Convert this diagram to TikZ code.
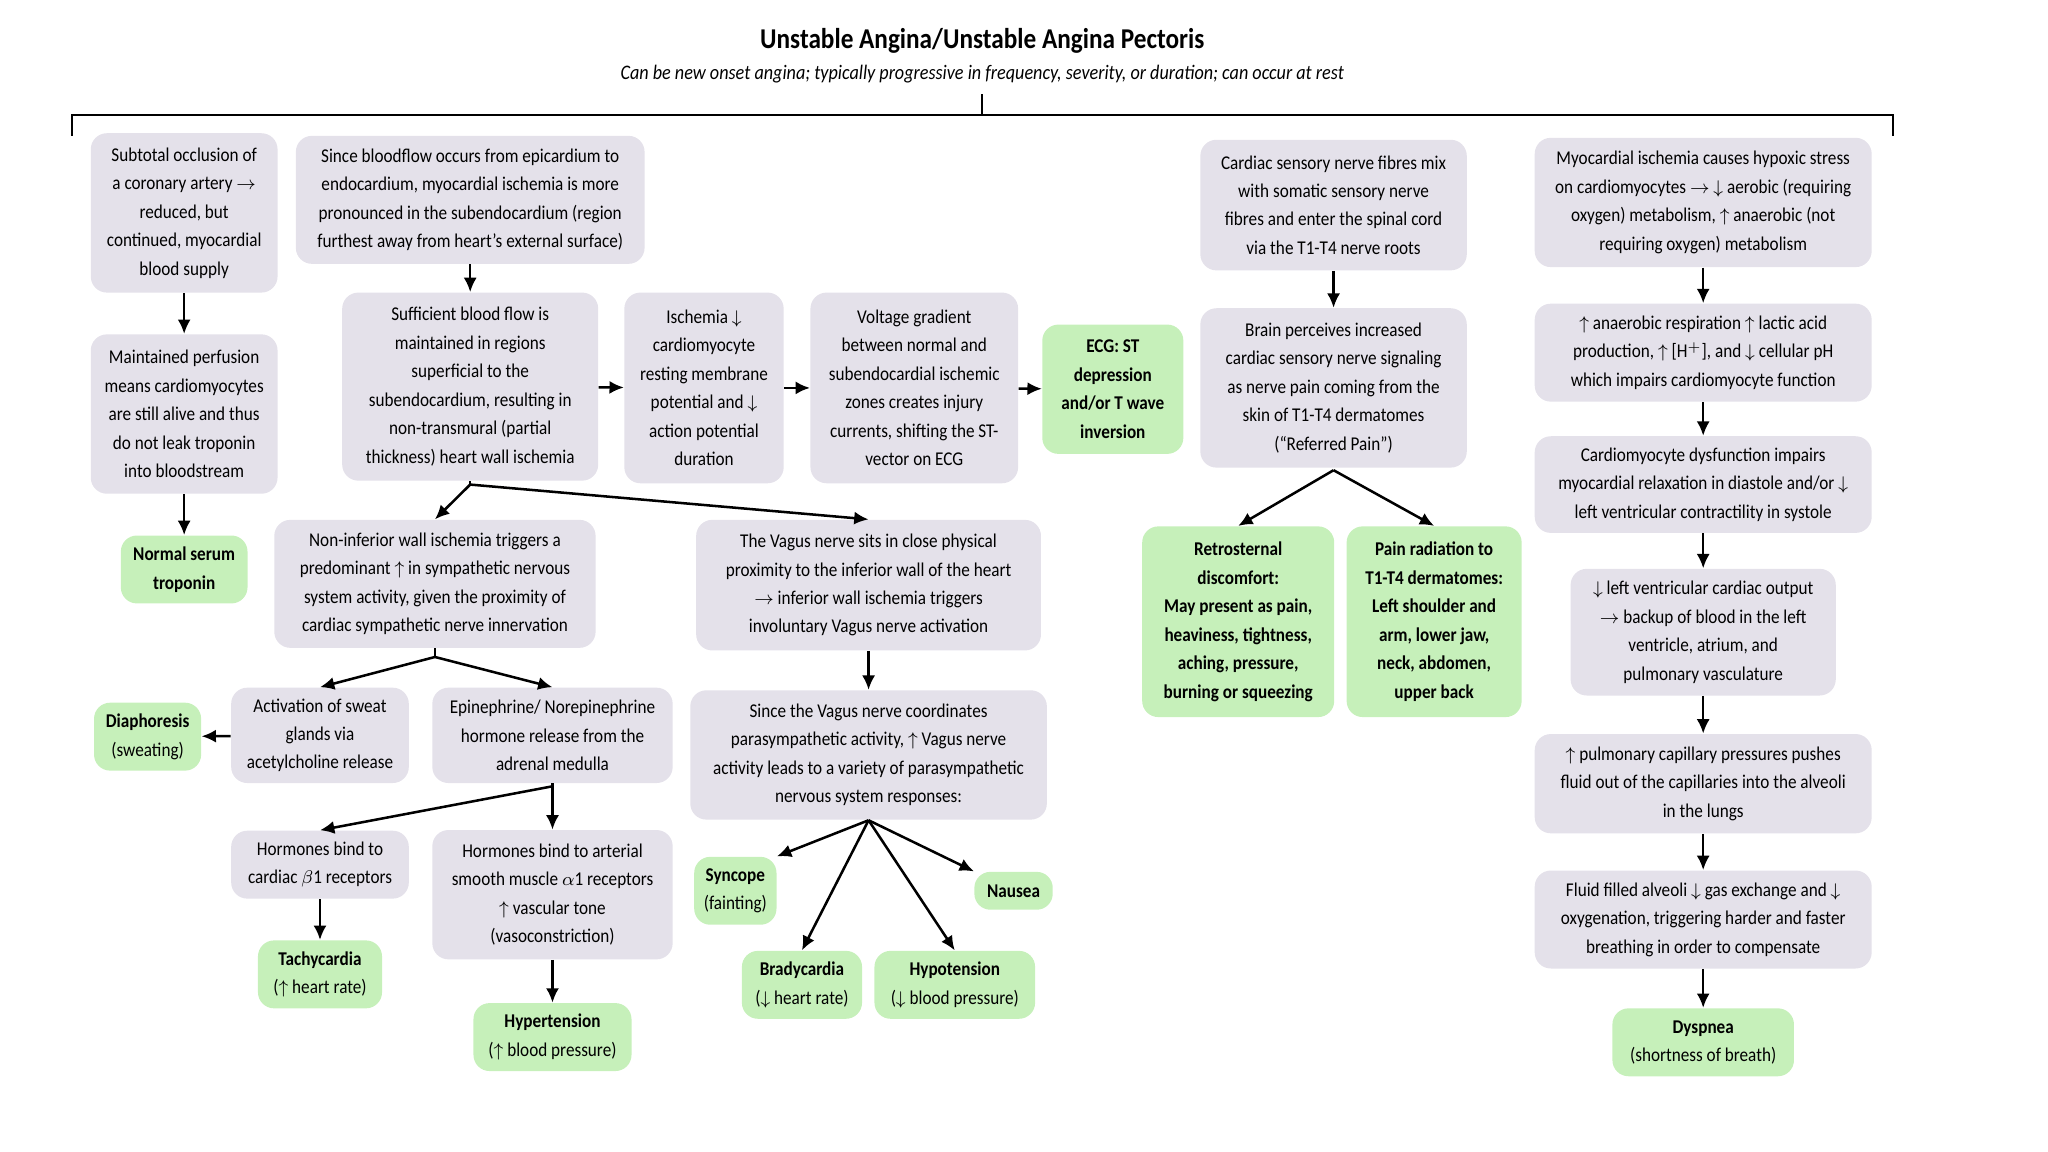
\documentclass[tikz,border=0pt]{standalone}
\usepackage{amsmath}
\usepackage{fontspec}
\setmainfont{Carlito}[FakeStretch=0.88]
\usetikzlibrary{arrows.meta}
\definecolor{boxgray}{HTML}{E4E1EA}
\definecolor{boxgreen}{HTML}{C6F0BA}
\newcommand\inc{$\uparrow$}
\newcommand\dec{$\downarrow$}
\newcommand\lead{$\rightarrow$}
\tikzset{
  sz/.style 2 args={minimum width={#1*0.02cm}, minimum height={#2*0.02cm}},
  gbox/.style={fill=boxgray, rounded corners=7pt, align=center, inner sep=2pt,
    font=\fontsize{8.5}{12.4}\selectfont},
  grbox/.style={gbox, fill=boxgreen},
  arr/.style={-{Latex[length=2.2mm,width=2mm]}, line width=1.1pt},
}
\begin{document}
\begin{tikzpicture}[x=0.02cm, y=-0.02cm]
    \useasboundingbox (0,0) rectangle (1568,882);
    % Title and bracket
    \node (title) at (752,31) {\fontsize{12.5}{14}\selectfont\bfseries Unstable Angina/Unstable Angina Pectoris};
    \node (sub) at (752,57) {\fontsize{9}{11}\selectfont\itshape Can be new onset angina; typically progressive in frequency, severity, or duration; can occur at rest};
    \draw[line width=0.9pt] (55,104) -- (55,88) -- (1449,88) -- (1449,104);
    \draw[line width=0.9pt] (752,88) -- (752,72);

    % Left column
    \node[gbox, sz={143}{122}] (occl) at (141,163) {Subtotal occlusion of\\a coronary artery \lead\\reduced, but\\continued, myocardial\\blood supply};
    \node[gbox, sz={143}{122}] (perf) at (141,317) {Maintained perfusion\\means cardiomyocytes\\are still alive and thus\\do not leak troponin\\into bloodstream};
    \node[grbox, sz={97}{52}] (trop) at (141,436) {\textbf{Normal serum}\\\textbf{troponin}};

    % Ischemia chain
    \node[gbox, sz={267}{98}] (since) at (360,153) {Since bloodflow occurs from epicardium to\\endocardium, myocardial ischemia is more\\pronounced in the subendocardium (region\\furthest away from heart's external surface)};
    \node[gbox, sz={196}{144}] (suff) at (360,296) {Sufficient blood flow is\\maintained in regions\\superficial to the\\subendocardium, resulting in\\non-transmural (partial\\thickness) heart wall ischemia};
    \node[gbox, sz={122}{146}] (isch) at (539,297) {Ischemia \dec\\cardiomyocyte\\resting membrane\\potential and \dec\\action potential\\duration};
    \node[gbox, sz={159}{146}] (volt) at (700,297) {Voltage gradient\\between normal and\\subendocardial ischemic\\zones creates injury\\currents, shifting the ST-\\vector on ECG};
    \node[grbox, sz={108}{99}] (ecg) at (852,298) {\bfseries ECG: ST\\\bfseries depression\\\bfseries and/or T wave\\\bfseries inversion};

    % Sympathetic branch
    \node[gbox, sz={246}{98}] (noninf) at (333,447) {Non-inferior wall ischemia triggers a\\predominant \inc\ in sympathetic nervous\\system activity, given the proximity of\\cardiac sympathetic nerve innervation};
    \node[gbox, sz={136}{73}] (sweat) at (245,563) {Activation of sweat\\glands via\\acetylcholine release};
    \node[grbox, sz={82}{52}] (diaph) at (113,564) {\textbf{Diaphoresis}\\(sweating)};
    \node[gbox, sz={184}{73}] (epi) at (423,563) {Epinephrine/ Norepinephrine\\hormone release from the\\adrenal medulla};
    \node[gbox, sz={136}{52}] (beta) at (245,662) {Hormones bind to\\cardiac $\beta$1 receptors};
    \node[gbox, sz={184}{99}] (alpha) at (423,685) {Hormones bind to arterial\\smooth muscle $\alpha$1 receptors\\\inc\ vascular tone\\(vasoconstriction)};
    \node[grbox, sz={95}{52}] (tachy) at (245,746) {\textbf{Tachycardia}\\(\inc\ heart rate)};
    \node[grbox, sz={121}{52}] (hyper) at (423,794) {\textbf{Hypertension}\\(\inc\ blood pressure)};

    % Vagal branch
    \node[gbox, sz={264}{100}] (vagus) at (665,448) {The Vagus nerve sits in close physical\\proximity to the inferior wall of the heart\\\lead\ inferior wall ischemia triggers\\involuntary Vagus nerve activation};
    \node[gbox, sz={273}{99}] (para) at (665,578) {Since the Vagus nerve coordinates\\parasympathetic activity, \inc\ Vagus nerve\\activity leads to a variety of parasympathetic\\nervous system responses:};
    \node[grbox, sz={63}{52}] (sync) at (563,682) {\textbf{Syncope}\\(fainting)};
    \node[grbox, sz={60}{29}] (nausea) at (776,682) {\textbf{Nausea}};
    \node[grbox, sz={92}{52}] (brady) at (614,754) {\textbf{Bradycardia}\\(\dec\ heart rate)};
    \node[grbox, sz={123}{52}] (hypot) at (731,754) {\textbf{Hypotension}\\(\dec\ blood pressure)};

    % Referred pain
    \node[gbox, sz={204}{100}] (sens) at (1021,157) {Cardiac sensory nerve fibres mix\\with somatic sensory nerve\\fibres and enter the spinal cord\\via the T1-T4 nerve roots};
    \node[gbox, sz={204}{122}] (brain) at (1021,297) {Brain perceives increased\\cardiac sensory nerve signaling\\as nerve pain coming from the\\skin of T1-T4 dermatomes\\(``Referred Pain'')};
    \node[grbox, sz={147}{146}] (retro) at (948,476) {\bfseries Retrosternal\\\bfseries discomfort:\\\bfseries May present as pain,\\\bfseries heaviness, tightness,\\\bfseries aching, pressure,\\\bfseries burning or squeezing};
    \node[grbox, sz={134}{146}] (pain) at (1098,476) {\bfseries Pain radiation to\\\bfseries T1-T4 dermatomes:\\\bfseries Left shoulder and\\\bfseries arm, lower jaw,\\\bfseries neck, abdomen,\\\bfseries upper back};

    % Right column
    \node[gbox, sz={258}{99}] (myo) at (1304,155) {Myocardial ischemia causes hypoxic stress\\on cardiomyocytes \lead\ \dec\ aerobic (requiring\\oxygen) metabolism, \inc\ anaerobic (not\\requiring oxygen) metabolism};
    \node[gbox, sz={258}{75}] (anaer) at (1304,270) {\inc\ anaerobic respiration \inc\ lactic acid\\production, \inc\ [H$^+$], and \dec\ cellular pH\\which impairs cardiomyocyte function};
    \node[gbox, sz={258}{74}] (dysf) at (1304,371) {Cardiomyocyte dysfunction impairs\\myocardial relaxation in diastole and/or \dec\\left ventricular contractility in systole};
    \node[gbox, sz={203}{97}] (lvco) at (1304,484) {\dec\ left ventricular cardiac output\\\lead\ backup of blood in the left\\ventricle, atrium, and\\pulmonary vasculature};
    \node[gbox, sz={258}{76}] (pulm) at (1304,600) {\inc\ pulmonary capillary pressures pushes\\fluid out of the capillaries into the alveoli\\in the lungs};
    \node[gbox, sz={258}{75}] (fluid) at (1304,704) {Fluid filled alveoli \dec\ gas exchange and \dec\\oxygenation, triggering harder and faster\\breathing in order to compensate};
    \node[grbox, sz={139}{52}] (dysp) at (1304,798) {\textbf{Dyspnea}\\(shortness of breath)};

    % Branch points
    \coordinate (sfork) at (360,371);
    \coordinate (nfork) at (333,503);
    \coordinate (efork) at (423,602);
    \coordinate (pfork) at (665,628);
    \coordinate (bfork) at (1021,360);

    % Connectors
    \draw[arr] (occl) -- (perf);
    \draw[arr] (perf) -- (trop);
    \draw[arr] (since) -- (suff);
    \draw[arr] (suff) -- (isch);
    \draw[arr] (isch) -- (volt);
    \draw[arr] (volt) -- (ecg);
    \draw[line width=1.1pt] (suff.south) -- (sfork);
    \draw[arr] (sfork) -- (noninf.north);
    \draw[arr] (sfork) -- (vagus.north);
    \draw[line width=1.1pt] (noninf.south) -- (nfork);
    \draw[arr] (nfork) -- (sweat.north);
    \draw[arr] (nfork) -- (epi.north);
    \draw[arr] (sweat) -- (diaph);
    \draw[arr] (efork) -- (beta.north);
    \draw[arr] (epi) -- (alpha);
    \draw[arr] (beta) -- (tachy);
    \draw[arr] (alpha) -- (hyper);
    \draw[arr] (vagus) -- (para);
    \draw[arr] (pfork) -- (sync.north east);
    \draw[arr] (pfork) -- (brady.north);
    \draw[arr] (pfork) -- (hypot.north);
    \draw[arr] (pfork) -- (nausea.north west);
    \draw[arr] (sens) -- (brain);
    \draw[arr] (bfork) -- (retro.north);
    \draw[arr] (bfork) -- (pain.north);
    \draw[arr] (myo) -- (anaer);
    \draw[arr] (anaer) -- (dysf);
    \draw[arr] (dysf) -- (lvco);
    \draw[arr] (lvco) -- (pulm);
    \draw[arr] (pulm) -- (fluid);
    \draw[arr] (fluid) -- (dysp);
\end{tikzpicture}
\end{document}
